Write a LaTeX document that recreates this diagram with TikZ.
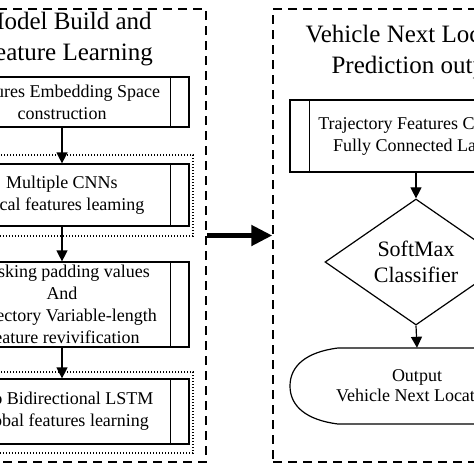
\documentclass[tikz,border=0pt]{standalone}
\usepackage{fontspec}
\setmainfont{Liberation Serif}
\usetikzlibrary{shapes.geometric,arrows.meta}
\begin{document}
\begin{tikzpicture}[x=1pt,y=-1pt,
  box/.style={draw, line width=1.2pt, rectangle, inner sep=0pt, align=center, font=\fontsize{18}{22}\selectfont},
  frame/.style={draw, line width=1.5pt, dash pattern=on 9pt off 6pt, inner sep=0pt},
  dotframe/.style={draw, line width=1.3pt, dash pattern=on 1.4pt off 1.6pt, inner sep=0pt},
  arr/.style={-{Triangle[length=11pt,width=11pt]}, line width=1.2pt},
  bigarr/.style={-{Triangle[length=21pt,width=20pt]}, line width=5pt},
  ttl/.style={align=center, inner sep=0pt, font=\fontsize{25}{31}\selectfont},
  sidebar/.style={line width=1.2pt}]
\useasboundingbox (0,0) rectangle (474,474);
\clip (0,0) rectangle (474,474);
% outer dashed frames
\node[frame, minimum width=278pt, minimum height=453pt] (L) at (67,235.5) {};
\node[frame, minimum width=288pt, minimum height=453pt] (R) at (417,235.5) {};
% titles
\node[ttl] (tl) at (67,39) {Model Build and\\Feature Learning};
\node[ttl] (tr) at (418,52) {Vehicle Next Location\\Prediction output};
% dotted frames
\node[dotframe, minimum width=262pt, minimum height=81pt] (f2) at (62,195.5) {};
\node[dotframe, minimum width=262pt, minimum height=81pt] (f4) at (62,412.5) {};
% left column boxes
\node[box, minimum width=254pt, minimum height=50pt] (b1) at (62,102) {Features Embedding Space\\construction};
\node[box, minimum width=254pt, minimum height=62pt] (b2) at (62,195) {Multiple CNNs\\Local features leaming};
\node[box, minimum width=254pt, minimum height=85pt] (b3) at (62,304.5) {Masking padding values\\And\\Trajectory Variable-length\\Feature revivification};
\node[box, minimum width=254pt, minimum height=65pt] (b4) at (62,411.5) {Two Bidirectional LSTM\\Global features learning};
\foreach \b in {b1,b2,b3,b4}{
  \draw[sidebar] ([xshift=-19pt]\b.north east) -- ([xshift=-19pt]\b.south east);
}
% right column
\node[box, minimum width=252pt, minimum height=72pt] (tb) at (416,136) {Trajectory Features Concat\\Fully Connected Layer};
\draw[sidebar] ([xshift=20pt]tb.north west) -- ([xshift=20pt]tb.south west);
\node[diamond, draw, line width=1.2pt, minimum width=182pt, minimum height=106pt, inner sep=0pt, align=center, font=\fontsize{22}{26}\selectfont] (d) at (416,262) {SoftMax\\Classifier};
\node[align=center, inner sep=0pt, minimum width=252pt, minimum height=76pt, font=\fontsize{18}{20}\selectfont] (o) at (417,386) {Output\\Vehicle Next Location};
\draw[line width=1.2pt] (338,348) -- (494,348) .. controls (526,352) and (542,366) .. (542,386) .. controls (542,406) and (526,420) .. (494,424) -- (338,424) .. controls (306,420) and (290,406) .. (290,386) .. controls (290,366) and (306,352) .. cycle;
% connectors
\draw[arr] (b1.south) -- (b2.north);
\draw[arr] (b2.south) -- (b3.north);
\draw[arr] (b3.south) -- (b4.north);
\draw[arr] (tb.south) -- (d.north);
\draw[arr] (d.south) -- (o.north);
\draw[bigarr] (L.east) -- (R.west);
\end{tikzpicture}
\end{document}
